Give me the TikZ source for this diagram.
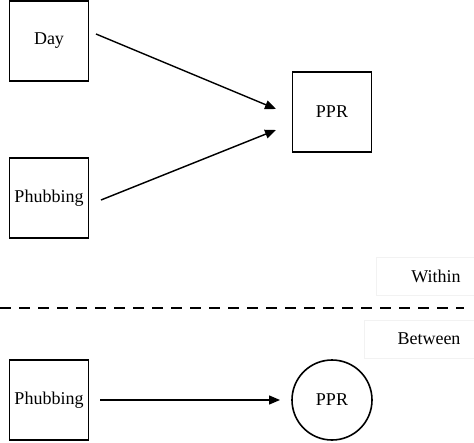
\documentclass[tikz,border=0pt]{standalone}
\usepackage{fontspec}
\setmainfont{Liberation Serif}
\usetikzlibrary{arrows.meta}
\begin{document}
\begin{tikzpicture}[x=1pt,y=-1pt,
  box/.style={draw,line width=1.6pt,minimum width=79pt,minimum height=80pt,inner sep=0pt,font=\fontsize{18}{20}\selectfont},
  circ/.style={draw,circle,line width=1.6pt,minimum size=80pt,inner sep=0pt,font=\fontsize{18}{20}\selectfont},
  lbl/.style={draw=black!5,line width=0.6pt,minimum width=98pt,minimum height=38pt,inner sep=0pt,font=\fontsize{18}{20}\selectfont},
  conn/.style={line width=1.4pt,-{Triangle[length=11pt,width=9pt]}}]
\useasboundingbox (0,0) rectangle (474,442);
\node[box] (day) at (49,41) {Day};
\node[box] (phw) at (49,198) {Phubbing};
\node[box] (pprw) at (332,112) {PPR};
\node[box] (phb) at (49,400) {Phubbing};
\node[circ] (pprb) at (332,400) {PPR};
\node[lbl] (within) at (425,276) {\hspace*{22pt}Within};
\node[lbl,minimum width=110pt] (between) at (419,339) {\hspace*{20pt}Between};
\coordinate (dl) at (0,308);
\coordinate (dr) at (464,308);
\draw[line width=1.6pt,dash pattern=on 11pt off 8pt] (dl) -- (dr);
\coordinate (a1s) at (96,34);
\coordinate (a1e) at (276,109);
\coordinate (a2s) at (101,200);
\coordinate (a2e) at (276,130);
\coordinate (a3s) at (100,400);
\coordinate (a3e) at (280,400);
\draw[conn] (a1s) -- (a1e);
\draw[conn] (a2s) -- (a2e);
\draw[conn] (a3s) -- (a3e);
\end{tikzpicture}
\end{document}
